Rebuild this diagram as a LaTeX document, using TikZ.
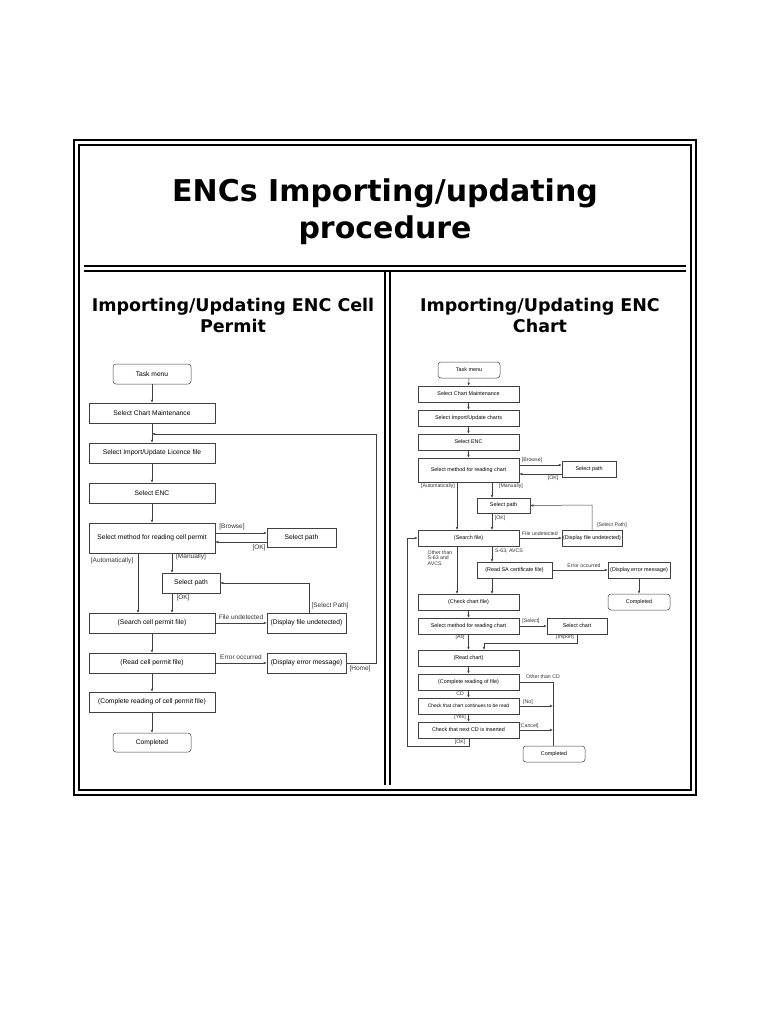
\documentclass[tikz,border=0pt]{standalone}
\usepackage{fontspec}
\setmainfont{Liberation Sans}
\newfontfamily\tfont{DejaVu Sans}
\usetikzlibrary{arrows.meta}
\begin{document}
\begin{tikzpicture}[x=1pt,y=-1pt,
  lb/.style={draw=black!75,line width=0.5pt,inner sep=0pt,font=\fontsize{6.7}{7}\selectfont,align=center},
  rb/.style={lb,font=\fontsize{5.4}{6}\selectfont},
  rnd/.style={rounded corners=3pt},
  ar/.style={draw=black!75,line width=0.5pt,-{Latex[length=3pt,width=2.5pt]}},
  ln/.style={draw=black!75,line width=0.5pt},
  tl/.style={inner sep=0.5pt,font=\fontsize{6.5}{7}\selectfont,text=black!80},
  rtl/.style={inner sep=0.5pt,font=\fontsize{5.2}{5.6}\selectfont,text=black!80,align=left}]
\useasboundingbox (0,0) rectangle (768,1024);
\fill[white] (0,0) rectangle (768,1024);
% frame
\draw[line width=1.2pt] (74,140) rectangle (696,795);
\draw[line width=2.5pt] (79,145) rectangle (691,790);
\draw[line width=2pt] (84,266) -- (686,266);
\draw[line width=2pt] (84,271) -- (686,271);
\draw[line width=2pt] (384.5,271) -- (384.5,785);
\draw[line width=2pt] (389.5,271) -- (389.5,785);
\node[font=\tfont\bfseries\fontsize{30}{37}\selectfont,align=center] (title) at (385,212) {ENCs Importing/updating\\procedure};
\node[font=\tfont\bfseries\fontsize{17.5}{21}\selectfont,align=center] (st1) at (233,315) {Importing/Updating ENC Cell\\Permit};
\node[font=\tfont\bfseries\fontsize{17.5}{21}\selectfont,align=center] (st2) at (540,315) {Importing/Updating ENC\\Chart};
% ===== Left chart
\node[lb,rnd,minimum width=78pt,minimum height=20pt] (a1) at (152,374) {Task menu};
\node[lb,minimum width=126pt,minimum height=20pt] (a2) at (152,413) {Select Chart Maintenance};
\node[lb,minimum width=126pt,minimum height=20pt] (a3) at (152,453) {Select Import/Update Licence file};
\node[lb,minimum width=126pt,minimum height=20pt] (a4) at (152,493) {Select ENC};
\node[lb,minimum width=126pt,minimum height=30pt] (a5) at (152,538) {Select method for reading cell permit};
\node[lb,minimum width=69pt,minimum height=19pt] (a6) at (301.5,537.5) {Select path};
\node[lb,minimum width=58pt,minimum height=20pt] (a7) at (191,583) {Select path};
\node[lb,minimum width=126pt,minimum height=20pt] (a8) at (152,623) {(Search cell permit file)};
\node[lb,minimum width=79pt,minimum height=20pt] (a9) at (306.5,623) {(Display file undetected)};
\node[lb,minimum width=126pt,minimum height=20pt] (a10) at (152,663) {(Read cell permit file)};
\node[lb,minimum width=79pt,minimum height=20pt] (a11) at (306.5,663) {(Display error message)};
\node[lb,minimum width=126pt,minimum height=20pt] (a12) at (152,702) {(Complete reading of cell permit file)};
\node[lb,rnd,minimum width=78pt,minimum height=19pt] (a13) at (152,742.5) {Completed};
\coordinate (lj) at (152,434);
\draw[ar] (a1) -- (a2);
\draw[ar] (a2) -- (a3);
\draw[ar] (a3) -- (a4);
\draw[ar] (a4) -- (a5);
\draw[ar] (a5.east|-0,533) -- (a6.west|-0,533);
\draw[ar] (a6.west|-0,542) -- (a5.east|-0,542);
\draw[ar] (138,553) -- (138,613);
\draw[ar] (172,553) -- (172,573);
\draw[ar] (172,593) -- (172,613);
\draw[ar] (a8) -- (a9);
\draw[ar] (309,613) -- (309,583) -- (a7.east);
\draw[ar] (a8) -- (a10);
\draw[ar] (a10) -- (a11);
\draw[ar] (a11.east) -- (376,663) -- (376,434) -- (lj);
\draw[ar] (a10) -- (a12);
\draw[ar] (a12) -- (a13);
\node[tl] (l1) at (232,527) {[Browse]};
\node[tl] (l2) at (259,548) {[OK]};
\node[tl] (l3) at (112,561) {[Automatically]};
\node[tl] (l4) at (191,557) {[Manually]};
\node[tl] (l5) at (183,598) {[OK]};
\node[tl] (l6) at (241,617) {File undetected};
\node[tl] (l7) at (330,606) {[Select Path]};
\node[tl] (l8) at (241,657) {Error occurred};
\node[tl] (l9) at (360,669) {[Home]};
% ===== Right chart
\node[rb,rnd,minimum width=62pt,minimum height=16pt] (b1) at (469,370) {Task menu};
\node[rb,minimum width=101pt,minimum height=16pt] (b2) at (468.5,394) {Select Chart Maintenance};
\node[rb,minimum width=101pt,minimum height=16pt] (b3) at (468.5,418) {Select Import/Update charts};
\node[rb,minimum width=101pt,minimum height=16pt] (b4) at (468.5,442) {Select ENC};
\node[rb,minimum width=101pt,minimum height=24pt] (b5) at (468.5,470) {Select method for reading chart};
\node[rb,minimum width=54pt,minimum height=16pt] (b6) at (589,469) {Select path};
\node[rb,minimum width=53pt,minimum height=15pt] (b7) at (503.5,505.5) {Select path};
\node[rb,minimum width=101pt,minimum height=16pt] (b8) at (468.5,538) {(Search file)};
\node[rb,minimum width=60pt,minimum height=16pt] (b9) at (592,538) {(Display file undetected)};
\node[rb,minimum width=75pt,minimum height=16pt] (b10) at (514.5,570) {(Read SA certificate file)};
\node[rb,minimum width=62pt,minimum height=16pt] (b11) at (639,570) {(Display error message)};
\node[rb,rnd,minimum width=62pt,minimum height=16pt] (b12) at (639,602) {Completed};
\node[rb,minimum width=101pt,minimum height=16pt] (b13) at (468.5,602) {(Check chart file)};
\node[rb,minimum width=101pt,minimum height=16pt] (b14) at (468.5,626) {Select method for reading chart};
\node[rb,minimum width=60pt,minimum height=16pt] (b15) at (577,626) {Select chart};
\node[rb,minimum width=101pt,minimum height=16pt] (b16) at (468.5,658) {(Read chart)};
\node[rb,minimum width=101pt,minimum height=16pt] (b17) at (468.5,682) {(Complete reading of file)};
\node[rb,minimum width=101pt,minimum height=16pt,font=\fontsize{4.9}{5}\selectfont] (b18) at (468.5,706) {Check that chart continues to be read};
\node[rb,minimum width=101pt,minimum height=16pt] (b19) at (468.5,730) {Check that next CD is inserted};
\node[rb,rnd,minimum width=62pt,minimum height=16pt] (b20) at (554,754) {Completed};
\draw[ar] (b1) -- (b2);
\draw[ar] (b2) -- (b3);
\draw[ar] (b3) -- (b4);
\draw[ar] (b4) -- (b5);
\draw[ar] (b5.east|-0,465) -- (b6.west|-0,465);
\draw[ar] (b6.west|-0,474) -- (b5.east|-0,474);
\draw[ar] (457,482) -- (457,530);
\draw[ar] (492,482) -- (492,498);
\draw[ar] (492,513) -- (492,530);
\draw[ar] (b8) -- (b9);
\draw[ar] (592,530) -- (592,505) -- (b7.east);
\draw[ar] (457,546) -- (457,594);
\draw[ar] (492,546) -- (492,562);
\draw[ar] (b10) -- (b11);
\draw[ar] (b11) -- (b12);
\draw[ar] (492,578) -- (492,594);
\draw[ar] (b13) -- (b14);
\draw[ar] (b14) -- (b15);
\draw[ar] (b14) -- (b16);
\draw[ar] (577,634) -- (577,643) -- (484,643) -- (484,650);
\draw[ar] (b16) -- (b17);
\draw[ar] (b17) -- (b18);
\draw[ar] (b18) -- (b19);
\draw[ln] (b17.east) -- (553,682) -- (553,746);
\draw[ar] (b18.east) -- (553,706);
\draw[ar] (b19.east) -- (553,730);
\draw[ar] (469,738) -- (469,746) -- (407,746) -- (407,538) -- (b8.west);
\node[rtl] (m1) at (532,460) {[Browse]};
\node[rtl] (m2) at (553,478) {[OK]};
\node[rtl] (m3) at (438,486) {[Automatically]};
\node[rtl] (m4) at (511,486) {[Manually]};
\node[rtl] (m5) at (500,518) {[OK]};
\node[rtl] (m6) at (540,534) {File undetected};
\node[rtl] (m7) at (612,525) {[Select Path]};
\node[rtl] (m8) at (440,558) {Other than\\S-63 and\\AVCS};
\node[rtl] (m9) at (509,551) {S-63, AVCS};
\node[rtl] (m10) at (584,566) {Error occurred};
\node[rtl] (m11) at (531,621) {[Select]};
\node[rtl] (m12) at (565,637) {[Import]};
\node[rtl] (m13) at (460,637) {[All]};
\node[rtl] (m14) at (543,677) {Other than CD};
\node[rtl] (m15) at (460,694) {CD};
\node[rtl] (m16) at (528,702) {[No]};
\node[rtl] (m17) at (460,717) {[Yes]};
\node[rtl] (m18) at (529,726) {[Cancel]};
\node[rtl] (m19) at (460,742) {[OK]};
\end{tikzpicture}
\end{document}
